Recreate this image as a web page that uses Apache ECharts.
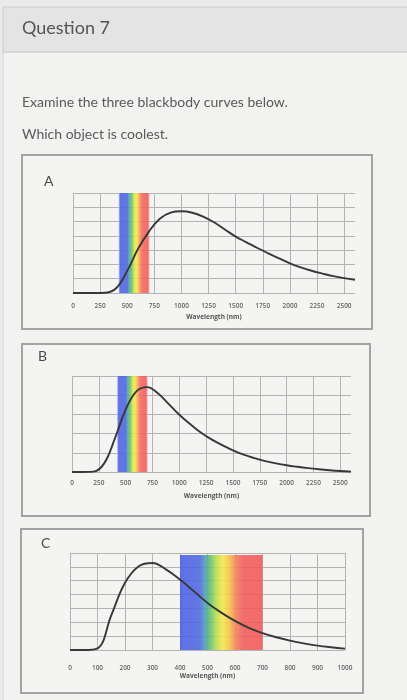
<!DOCTYPE html>
<html>
<head>
<meta charset="utf-8">
<script src="https://cdn.jsdelivr.net/npm/echarts@6/dist/echarts.min.js"></script>
<style>
  html, body { margin: 0; padding: 0; background: #ebebeb; }
  #chart { width: 407px; height: 700px; }
</style>
</head>
<body>
<div id="chart"></div>
<script>
{
    // 文字
    const questionTitle = 'Question 7';
    const questionLines = ['Examine the three blackbody curves below.', 'Which object is coolest.'];
    const panelNames = ['A', 'B', 'C'];
    const axisTitle = 'Wavelength (nm)';

    // A: wavelength (nm) / intensity (grid units)
    const waveA = [0, 100, 200, 300, 400, 500, 600, 700, 800, 900, 1000, 1100, 1200, 1300, 1400, 1500, 1600, 1700, 1800, 1900, 2000, 2100, 2200, 2300, 2400, 2500, 2600];
    const fluxA = [0, 0, 0, 0.02, 0.35, 1.55, 3.1, 4.3, 5.2, 5.62, 5.72, 5.62, 5.35, 4.95, 4.45, 3.95, 3.55, 3.15, 2.78, 2.42, 2.08, 1.8, 1.56, 1.36, 1.18, 1.04, 0.92];

    // B
    const waveB = [0, 100, 200, 300, 400, 500, 600, 700, 800, 900, 1000, 1100, 1200, 1300, 1400, 1500, 1600, 1700, 1800, 1900, 2000, 2100, 2200, 2300, 2400, 2500, 2600];
    const fluxB = [0, 0, 0.02, 0.45, 1.75, 3.25, 4.2, 4.42, 4.1, 3.55, 2.98, 2.5, 2.06, 1.7, 1.4, 1.13, 0.9, 0.72, 0.57, 0.45, 0.35, 0.27, 0.2, 0.14, 0.09, 0.05, 0.02];

    // C
    const waveC = [0, 50, 100, 150, 200, 250, 300, 350, 400, 450, 500, 550, 600, 650, 700, 750, 800, 850, 900, 950, 1000];
    const fluxC = [0, 0, 0.12, 2.5, 4.85, 6.05, 6.28, 5.8, 5.08, 4.25, 3.4, 2.7, 2.1, 1.6, 1.22, 0.92, 0.68, 0.48, 0.32, 0.2, 0.1];

    // 可见光范围
    const bandA = [420, 705];
    const bandB = [420, 705];
    const bandC = [400, 700];
    const bandTopC = 6.85;

    // 坐标轴范围
    const xMaxAB = 2600, xStepAB = 250;
    const xMaxC = 1000, xStepC = 100;
    const yMaxA = 7, yMaxB = 5, yMaxC = 7;

    const zip = (xs, ys) => xs.map((x, i) => [x, ys[i]]);

    const rainbowWide = () => new echarts.graphic.LinearGradient(0, 0, 1, 0, [
        { offset: 0, color: '#c9d3f6' },
        { offset: 0.05, color: '#4a62e6' },
        { offset: 0.27, color: '#4f66e0' },
        { offset: 0.35, color: '#4aa6b4' },
        { offset: 0.43, color: '#6cc45c' },
        { offset: 0.51, color: '#d6e64c' },
        { offset: 0.58, color: '#f6e84c' },
        { offset: 0.66, color: '#f7b250' },
        { offset: 0.75, color: '#f46a5e' },
        { offset: 0.95, color: '#f25a5a' },
        { offset: 1, color: '#f6b6ae' }
    ]);
    const rainbowC = () => new echarts.graphic.LinearGradient(0, 0, 1, 0, [
        { offset: 0, color: '#4a5ee6' },
        { offset: 0.24, color: '#4e68e0' },
        { offset: 0.3, color: '#4f9ac0' },
        { offset: 0.36, color: '#5cc070' },
        { offset: 0.44, color: '#b8dc50' },
        { offset: 0.52, color: '#f6ea48' },
        { offset: 0.6, color: '#f7c048' },
        { offset: 0.68, color: '#f48058' },
        { offset: 0.76, color: '#f25c5c' },
        { offset: 1, color: '#f25858' }
    ]);

    const gridLine = { show: true, lineStyle: { color: '#b4b4b4', width: 1 } };

    function xAxisOf(gridIndex, max, step, margin, gap, hideMax) {
        return {
            type: 'value', gridIndex: gridIndex, min: 0, max: max, interval: step,
            axisLine: { show: false }, axisTick: { show: false },
            splitLine: Object.assign({ showMaxLine: !hideMax }, gridLine),
            axisLabel: {
                margin: margin, fontSize: 6.5, color: '#666666', fontWeight: 600,
                fontFamily: 'Open Sans',
                formatter: v => (v % step === 0 ? String(v) : '')
            },
            name: axisTitle, nameLocation: 'middle', nameGap: gap,
            nameTextStyle: { fontSize: 6.5, color: '#555555', fontWeight: 'bold', fontFamily: 'Open Sans' }
        };
    }
    function yAxisOf(gridIndex, max) {
        return {
            type: 'value', gridIndex: gridIndex, min: 0, max: max, interval: 1,
            axisLine: { show: false }, axisTick: { show: false },
            axisLabel: { show: false }, splitLine: gridLine
        };
    }
    function curveOf(idx, data, band, gradient) {
        return {
            type: 'line', xAxisIndex: idx, yAxisIndex: idx, data: data,
            smooth: 0.4, symbol: 'none', silent: true, z: 3,
            lineStyle: { color: '#383838', width: 1.9 },
            markArea: {
                silent: true,
                itemStyle: { color: gradient, opacity: 0.88 },
                data: [band]
            }
        };
    }

    const textStyle = (size, color) => ({ fontSize: size, fontFamily: 'Lato', fill: color });

    let option = {
        backgroundColor: '#ebebeb',
        animation: false,
        graphic: [
            // 卡片
            { type: 'rect', z: -5, shape: { x: 3, y: 52, width: 410, height: 660 }, style: { fill: '#f2f2f1', stroke: '#d4d4d4' } },
            { type: 'rect', z: -5, shape: { x: 3, y: 7, width: 410, height: 45 }, style: { fill: '#e4e4e4', stroke: '#cccccc' } },
            { type: 'text', z: -4, x: 22, y: 28, style: Object.assign({ text: questionTitle, verticalAlign: 'middle' }, textStyle(18, '#555555')) },
            { type: 'text', z: -4, x: 22, y: 102, style: Object.assign({ text: questionLines[0], verticalAlign: 'middle' }, textStyle(14, '#5a5a5a')) },
            { type: 'text', z: -4, x: 22, y: 134, style: Object.assign({ text: questionLines[1], verticalAlign: 'middle' }, textStyle(14, '#5a5a5a')) },
            // 三个面板
            { type: 'rect', z: -4, shape: { x: 22, y: 155, width: 350, height: 174 }, style: { fill: '#f4f4f2', stroke: '#a3a3a3', lineWidth: 2 } },
            { type: 'rect', z: -4, shape: { x: 22, y: 344, width: 348, height: 172 }, style: { fill: '#f4f4f2', stroke: '#a3a3a3', lineWidth: 2 } },
            { type: 'rect', z: -4, shape: { x: 21, y: 529, width: 342, height: 164 }, style: { fill: '#f4f4f2', stroke: '#a3a3a3', lineWidth: 2 } },
            { type: 'text', z: -3, x: 44, y: 181, style: Object.assign({ text: panelNames[0], verticalAlign: 'middle' }, textStyle(14, '#4a4a4a')) },
            { type: 'text', z: -3, x: 38, y: 356, style: Object.assign({ text: panelNames[1], verticalAlign: 'middle' }, textStyle(14, '#4a4a4a')) },
            { type: 'text', z: -3, x: 41, y: 543, style: Object.assign({ text: panelNames[2], verticalAlign: 'middle' }, textStyle(14, '#4a4a4a')) }
        ],
        grid: [
            { left: 73, top: 193, width: 282, height: 100 },
            { left: 72, top: 376, width: 279, height: 96 },
            { left: 70, top: 553, width: 275, height: 97 }
        ],
        xAxis: [
            xAxisOf(0, xMaxAB, xStepAB, 10, 21, true),
            xAxisOf(1, xMaxAB, xStepAB, 8, 21, true),
            xAxisOf(2, xMaxC, xStepC, 15, 22, false)
        ],
        yAxis: [yAxisOf(0, yMaxA), yAxisOf(1, yMaxB), yAxisOf(2, yMaxC)],
        series: [
            curveOf(0, zip(waveA, fluxA), [{ xAxis: bandA[0] }, { xAxis: bandA[1] }], rainbowWide()),
            curveOf(1, zip(waveB, fluxB), [{ xAxis: bandB[0] }, { xAxis: bandB[1] }], rainbowWide()),
            curveOf(2, zip(waveC, fluxC), [{ xAxis: bandC[0], yAxis: 0 }, { xAxis: bandC[1], yAxis: bandTopC }], rainbowC())
        ]
    };

    echarts.init(document.getElementById('chart')).setOption(option);
}
</script>
</body>
</html>
